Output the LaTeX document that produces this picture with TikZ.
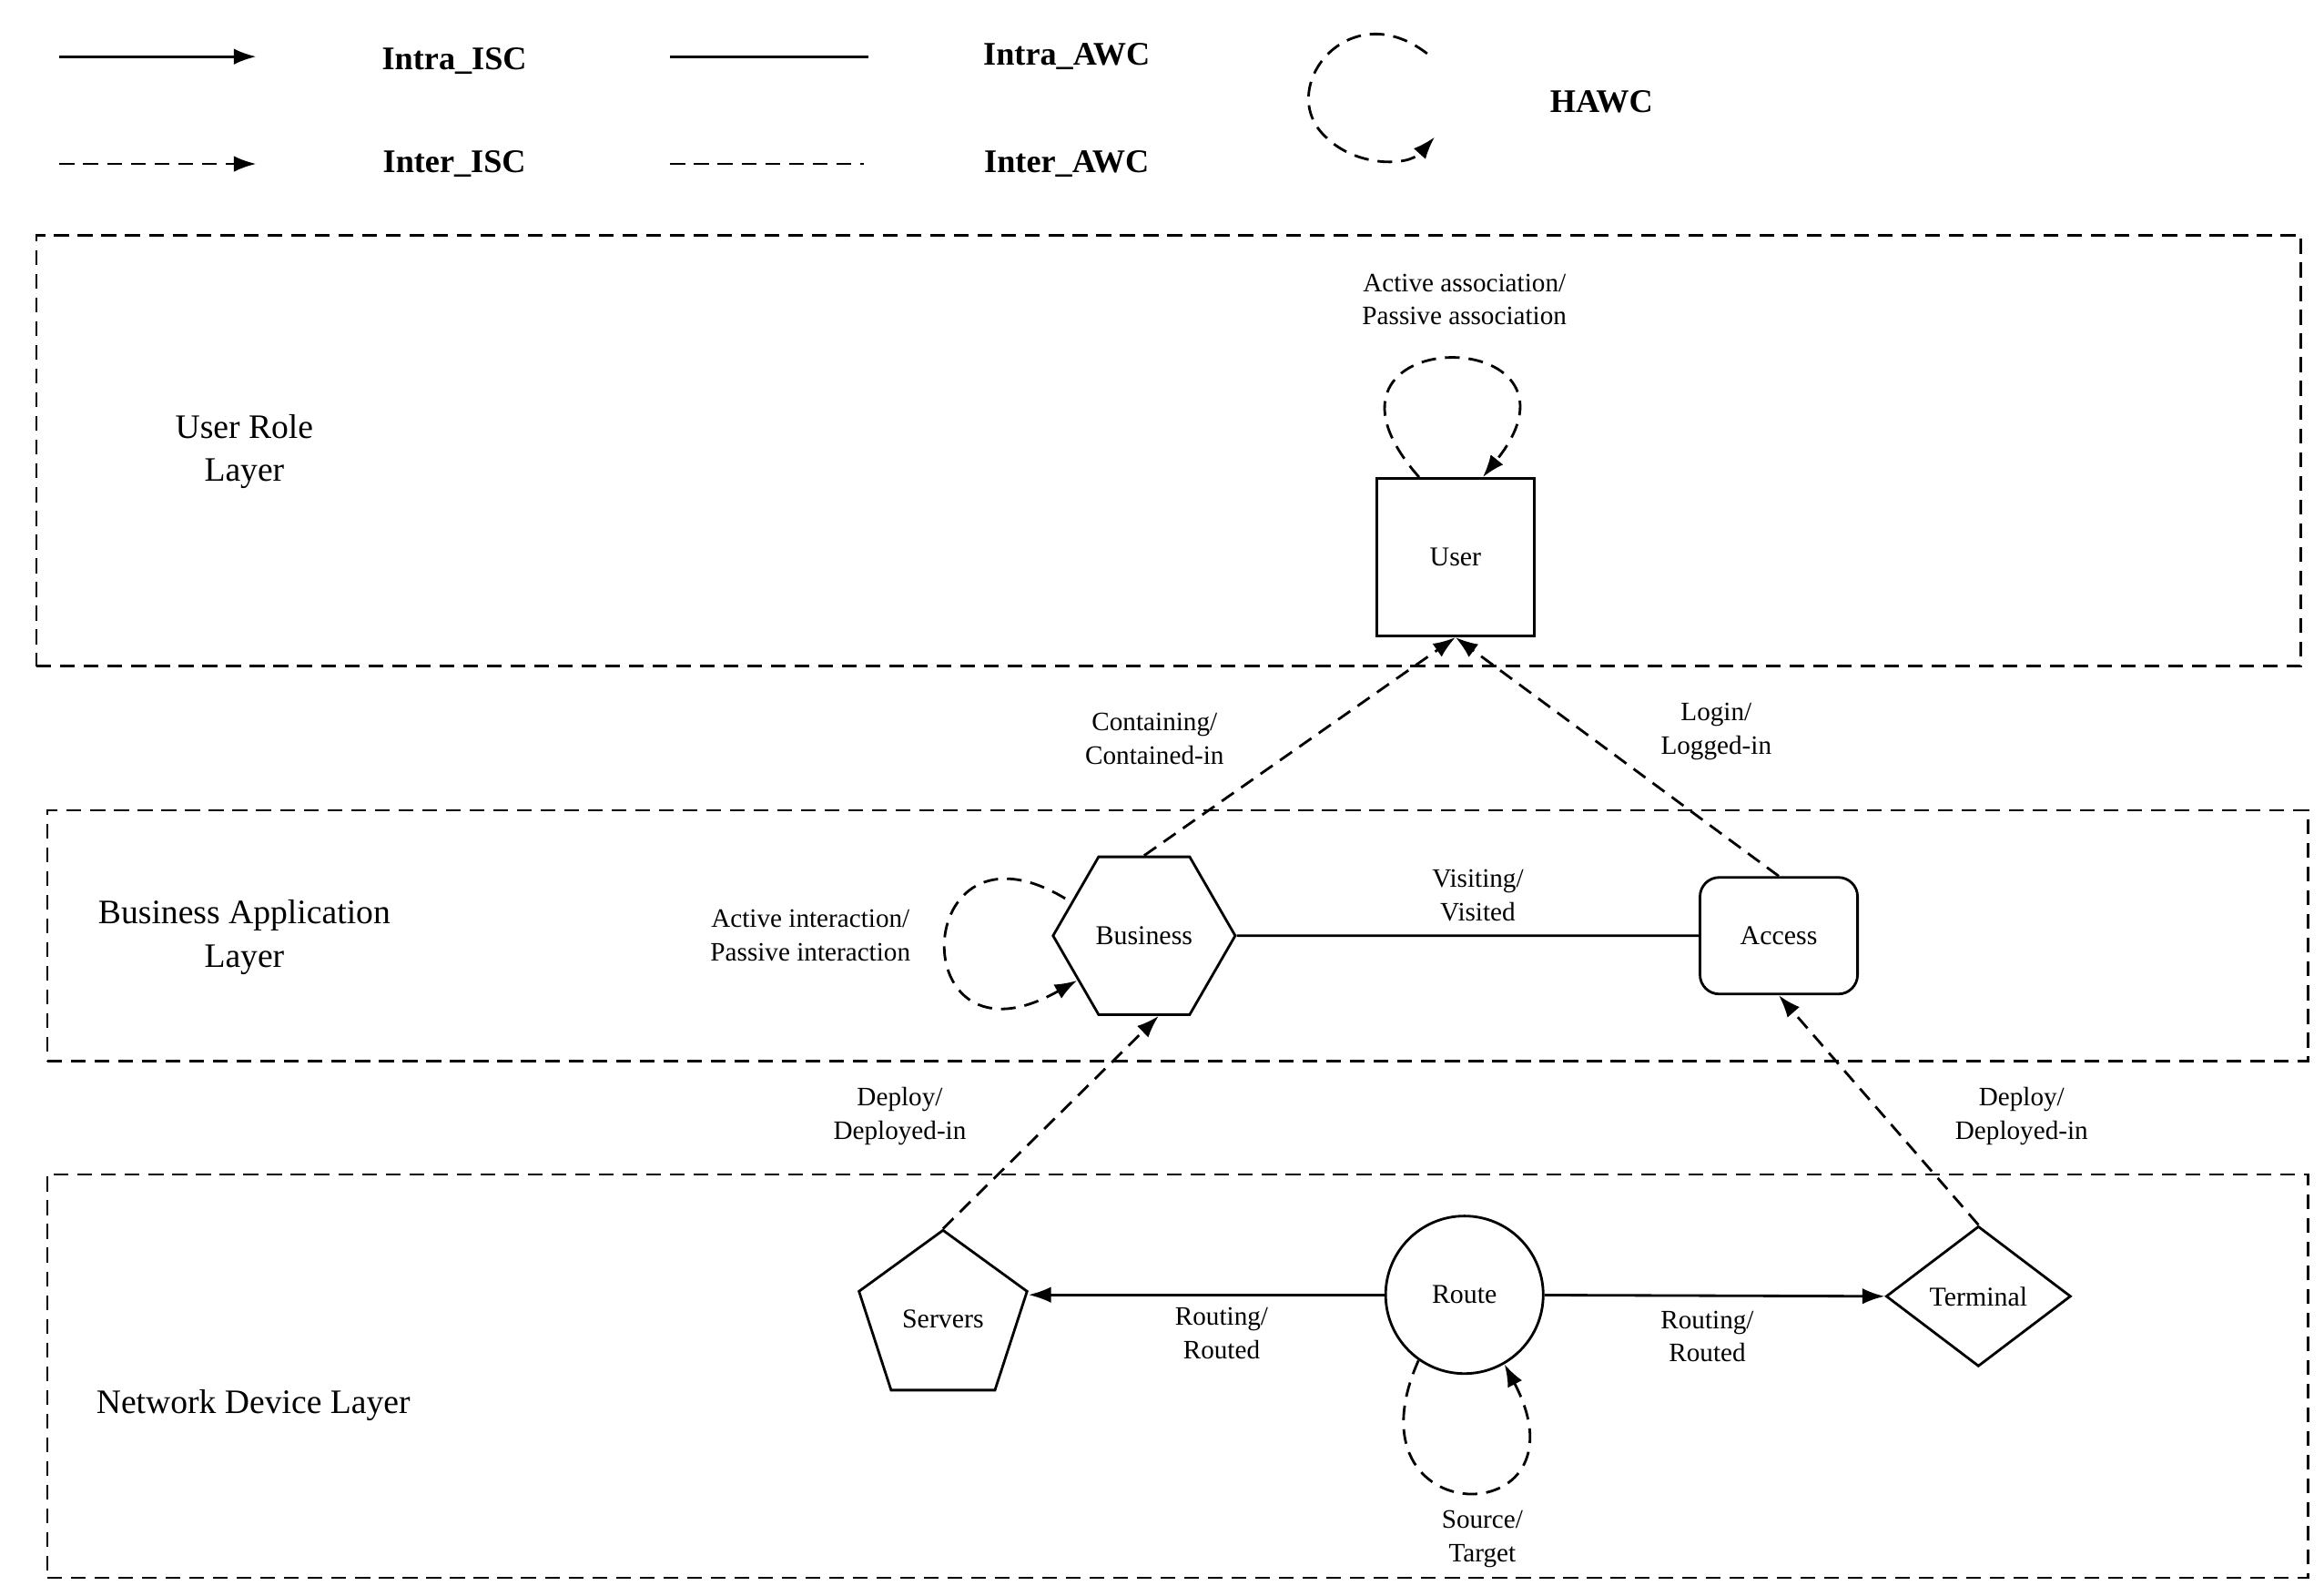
\documentclass[tikz,border=0pt]{standalone}
\usepackage{fontspec}
\setmainfont{Liberation Serif}
\usetikzlibrary{shapes.geometric,arrows.meta}

\tikzset{
  dsh/.style={dash pattern=on 4.6pt off 2.8pt},
  layer/.style={draw, dsh, line width=0.7pt},
  isc/.style={-{Latex[length=7pt,width=5pt]}, line width=0.8pt},
  awc/.style={line width=0.8pt},
  obj/.style={draw, line width=0.8pt, inner sep=0pt, font=\fontsize{8.5}{10}\selectfont},
  lbl/.style={align=center, font=\fontsize{8.3}{10.5}\selectfont},
  lay/.style={align=center, font=\fontsize{10.7}{13.5}\selectfont},
  leg/.style={font=\bfseries\fontsize{10.3}{12}\selectfont}
}

\begin{document}
\begin{tikzpicture}[x=0.016365cm, y=-0.016365cm]
      \useasboundingbox (0,0) rectangle (1560,1071);

      % Legend
      \coordinate (l1a) at (40,38);  \coordinate (l1b) at (172,38);
      \coordinate (l2a) at (40,110); \coordinate (l2b) at (172,110);
      \coordinate (l3a) at (450,38); \coordinate (l3b) at (583,38);
      \coordinate (l4a) at (450,110);\coordinate (l4b) at (580,110);
      \draw[isc] (l1a) -- (l1b);
      \draw[isc, dsh] (l2a) -- (l2b);
      \draw[awc] (l3a) -- (l3b);
      \draw[awc, dsh] (l4a) -- (l4b);
      \node (intraisc) [leg] at (305,41) {Intra\_ISC};
      \node (interisc) [leg] at (305,110) {Inter\_ISC};
      \node (intraawc) [leg] at (716,38) {Intra\_AWC};
      \node (interawc) [leg] at (716,110) {Inter\_AWC};
      \coordinate (h1) at (958,36);
      \coordinate (h2) at (963,92);
      \draw[isc, dsh] (h1) .. controls (905,-5) and (855,60) .. (890,92)
                           .. controls (910,112) and (945,112) .. (h2);
      \node (hawc) [leg] at (1075,68) {HAWC};

      % Layers
      \node (userlayer) [layer, minimum width=24.86cm, minimum height=4.73cm] at (784.5,302.5) {};
      \node (buslayer) [layer, minimum width=24.82cm, minimum height=2.75cm] at (790.5,628) {};
      \node (netlayer) [layer, minimum width=24.82cm, minimum height=4.43cm] at (790.5,923.5) {};
      \node (userlbl) [lay] at (164,303) {User Role\\Layer};
      \node (buslbl) [lay] at (164,629) {Business Application\\Layer};
      \node (netlbl) [lay] at (170,943) {Network Device Layer};

      % Objects
      \node (user) [obj, minimum width=1.73cm, minimum height=1.73cm] at (977,374) {User};
      \node (business) [obj, regular polygon, regular polygon sides=6, minimum size=2cm] at (768,628) {Business};
      \node (access) [obj, rounded corners=6pt, minimum width=1.73cm, minimum height=1.28cm] at (1194,628) {Access};
      \node (servers) [obj, regular polygon, regular polygon sides=5, minimum size=1.94cm] at (633,885) {Servers};
      \node (route) [obj, circle, minimum size=1.73cm] at (983,869) {Route};
      \node (terminal) [obj, diamond, minimum width=2.03cm, minimum height=1.54cm] at (1328,870) {Terminal};

      % Connectors
      \draw[isc, dsh] (business.north) -- (user.south);
      \draw[isc, dsh] (access.north) -- (user.south);
      \draw[awc] (business) -- (access);
      \draw[isc, dsh] (servers.corner 1) -- ([xshift=0.16cm]business.south);
      \draw[isc, dsh] (terminal.north) -- (access.south);
      \draw[isc] (route) -- (servers.corner 5 |- route);
      \draw[isc] (route) -- (terminal.west);

      % Loops
      \draw[isc, dsh] ([xshift=-0.4cm]user.north) .. controls (860,215) and (1080,215) .. ([xshift=0.3cm]user.north);
      \draw[isc, dsh] (715,603) .. controls (610,540) and (605,725) .. (723,658);
      \draw[isc, dsh] (route.235) .. controls (900,1030) and (1070,1030) .. (route.300);

      % Labels
      \node (lbluser) [lbl] at (983,201) {Active association/\\Passive association};
      \node (lblcont) [lbl] at (775,496) {Containing/\\Contained-in};
      \node (lbllogin) [lbl] at (1152,491) {Login/\\Logged-in};
      \node (lblvisit) [lbl] at (992,601) {Visiting/\\Visited};
      \node (lblbus) [lbl] at (544,628) {Active interaction/\\Passive interaction};
      \node (lbldep1) [lbl] at (604,749) {Deploy/\\Deployed-in};
      \node (lbldep2) [lbl] at (1357,749) {Deploy/\\Deployed-in};
      \node (lblrout1) [lbl] at (820,895) {Routing/\\Routed};
      \node (lblrout2) [lbl] at (1146,897) {Routing/\\Routed};
      \node (lblsrc) [lbl] at (995,1033) {Source/\\Target};
\end{tikzpicture}
\end{document}
